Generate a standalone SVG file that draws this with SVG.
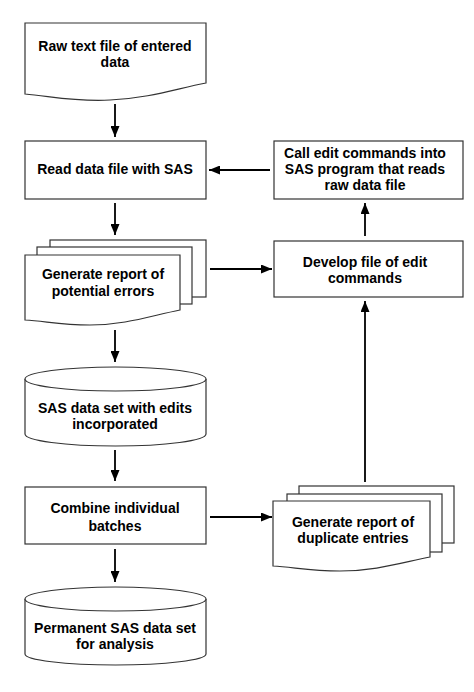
<svg xmlns="http://www.w3.org/2000/svg" width="474" height="692" viewBox="0 0 474 692">
<style>
.shape{fill:#fff;stroke:#333;stroke-width:1.2}
.conn{fill:none;stroke:#000;stroke-width:1.8}
text{font-family:"Liberation Sans",Arial,sans-serif;font-weight:bold;font-size:14px;fill:#000;text-anchor:middle}
</style>
<defs>
<marker id="ah" markerUnits="userSpaceOnUse" markerWidth="11" markerHeight="9" refX="11" refY="4.5" orient="auto">
<path d="M0,0 L11,4.5 L0,9 z" fill="#000"/>
</marker>
</defs>
<rect width="474" height="692" fill="#fff"/>
<g id="raw">
<path class="shape" d="M25,23 H206 V83 C175,89 150,98 110,100 C75,102 50,96 25,94 Z"/>
<text x="115" y="51">Raw text file of entered</text>
<text x="115" y="67">data</text>
</g>
<g id="read">
<rect class="shape" x="25" y="141" width="181" height="58"/>
<text x="115" y="174">Read data file with SAS</text>
</g>
<g id="potential">
<rect class="shape" x="50" y="240" width="156" height="57"/>
<rect class="shape" x="37" y="247" width="155" height="57"/>
<path class="shape" d="M25,255 H180 V310 C150,316 125,325 90,325 C60,325 45,321 25,320 Z"/>
<text x="103" y="279">Generate report of</text>
<text x="103" y="296">potential errors</text>
</g>
<g id="sasedits">
<path class="shape" d="M25,379 V434 A90.5,12 0 0 0 206,434 V379"/>
<ellipse class="shape" cx="115.5" cy="379" rx="90.5" ry="12"/>
<text x="115" y="413">SAS data set with edits</text>
<text x="115" y="429">incorporated</text>
</g>
<g id="combine">
<rect class="shape" x="25" y="487" width="181" height="57"/>
<text x="115" y="513">Combine individual</text>
<text x="115" y="531">batches</text>
</g>
<g id="permanent">
<path class="shape" d="M25,599 V654 A90.5,11 0 0 0 206,654 V599"/>
<ellipse class="shape" cx="115.5" cy="599" rx="90.5" ry="12"/>
<text x="115" y="633">Permanent SAS data set</text>
<text x="115" y="649">for analysis</text>
</g>
<g id="call">
<rect class="shape" x="274" y="141" width="189" height="58"/>
<text x="365" y="158">Call edit commands into</text>
<text x="365" y="174">SAS program that reads</text>
<text x="365" y="190">raw data file</text>
</g>
<g id="develop">
<rect class="shape" x="274" y="241" width="189" height="56"/>
<text x="365" y="267">Develop file of edit</text>
<text x="365" y="283">commands</text>
</g>
<g id="duplicate">
<rect class="shape" x="299" y="486" width="155" height="57"/>
<rect class="shape" x="287" y="494" width="155" height="58"/>
<path class="shape" d="M273,501 H430 V557 C400,563 375,571 340,571 C310,571 293,567 273,566 Z"/>
<text x="353" y="527">Generate report of</text>
<text x="353" y="543">duplicate entries</text>
</g>
<g id="connectors">
<line class="conn" x1="115" y1="104" x2="115" y2="137" marker-end="url(#ah)"/>
<line class="conn" x1="115" y1="203" x2="115" y2="235" marker-end="url(#ah)"/>
<line class="conn" x1="115" y1="330" x2="115" y2="362" marker-end="url(#ah)"/>
<line class="conn" x1="115" y1="450" x2="115" y2="481" marker-end="url(#ah)"/>
<line class="conn" x1="115" y1="549" x2="115" y2="582" marker-end="url(#ah)"/>
<line class="conn" x1="210" y1="269" x2="272" y2="269" marker-end="url(#ah)"/>
<line class="conn" x1="210" y1="517" x2="272" y2="517" marker-end="url(#ah)"/>
<line class="conn" x1="365" y1="482" x2="365" y2="301" marker-end="url(#ah)"/>
<line class="conn" x1="365" y1="236" x2="365" y2="203" marker-end="url(#ah)"/>
<line class="conn" x1="270" y1="170" x2="209" y2="170" marker-end="url(#ah)"/>
</g>
</svg>
